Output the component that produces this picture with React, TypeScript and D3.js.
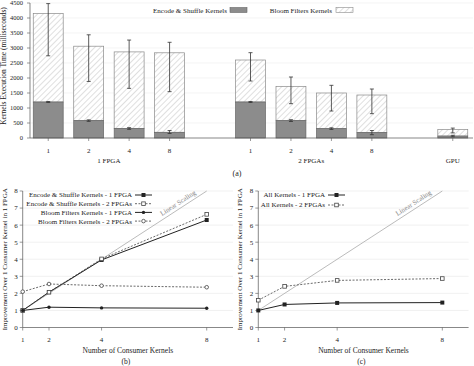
import React from "react";
import * as d3 from "d3";

// (a) stacked bars, execution time in ms
const barKeys = ["1F-1", "1F-2", "1F-4", "1F-8", "gap1", "2F-1", "2F-2", "2F-4", "2F-8", "gap2", "GPU"];
const barTicks = ["1", "2", "4", "8", "", "1", "2", "4", "8", "", ""];
const encodeMs = [1200, 578, 320, 190, 0, 1200, 578, 311, 178, 0, 65];
const encodeLo = [1185, 555, 290, 150, 0, 1185, 550, 285, 110, 0, 40];
const encodeHi = [1215, 605, 345, 250, 0, 1215, 610, 340, 250, 0, 90];
const totalMs = [4150, 3060, 2870, 2840, 0, 2600, 1722, 1500, 1433, 0, 285];
const totalLo = [2740, 1885, 1655, 1545, 0, 1900, 1144, 900, 811, 0, 170];
const totalHi = [4480, 3440, 3265, 3190, 0, 2844, 2033, 1756, 1633, 0, 330];
const groupLabels = [
  { text: "1 FPGA", from: "1F-2", to: "1F-4" },
  { text: "2 FPGAs", from: "2F-2", to: "2F-4" },
  { text: "GPU", from: "GPU", to: "GPU" },
];

// (b) and (c) speedups
const kernels = [1, 2, 4, 8];
const encode1 = [1, 2.07, 3.96, 6.3];
const encode2 = [1, 2.07, 4.02, 6.63];
const bloom1 = [1, 1.19, 1.15, 1.13];
const bloom2 = [2.1, 2.55, 2.45, 2.36];
const all1 = [1, 1.35, 1.44, 1.46];
const all2 = [1.6, 2.41, 2.76, 2.87];

const FONT = "Liberation Serif";
const DARK = "#222";

type Series = { name: string; values: number[]; dashed: boolean; marker: "fsq" | "osq" | "fci" | "oci" };

const seriesB: Series[] = [
  { name: "Encode & Shuffle Kernels - 1 FPGA", values: encode1, dashed: false, marker: "fsq" },
  { name: "Encode & Shuffle Kernels - 2 FPGAs", values: encode2, dashed: true, marker: "osq" },
  { name: "Bloom Filters Kernels - 1 FPGA", values: bloom1, dashed: false, marker: "fci" },
  { name: "Bloom Filters Kernels - 2 FPGAs", values: bloom2, dashed: true, marker: "oci" },
];
const seriesC: Series[] = [
  { name: "All Kernels - 1 FPGA", values: all1, dashed: false, marker: "fsq" },
  { name: "All Kernels - 2 FPGAs", values: all2, dashed: true, marker: "osq" },
];

const Marker = ({ kind, x, y }: { kind: string; x: number; y: number }) => {
  if (kind === "fsq") return <rect x={x - 2} y={y - 2} width={4} height={4} fill={DARK} />;
  if (kind === "osq") return <rect x={x - 1.8} y={y - 1.8} width={3.6} height={3.6} fill="#fff" stroke="#444" strokeWidth={0.8} />;
  if (kind === "fci") return <circle cx={x} cy={y} r={1.7} fill={DARK} />;
  return <circle cx={x} cy={y} r={1.8} fill="#fff" stroke="#444" strokeWidth={0.8} />;
};

const LinePanel = ({
  left, right, series, legendRight, legendTop, legendStep, label,
}: {
  left: number; right: number; series: Series[]; legendRight: number; legendTop: number; legendStep: number; label: string;
}) => {
  const x = d3.scaleLinear().domain([1, 9]).range([left, right]);
  const y = d3.scaleLinear().domain([0, 8]).range([327.5, 191]);
  const line = d3.line<number>().x((_, i) => x(kernels[i])).y((d) => y(d));
  const ang = (Math.atan2(y(8) - y(1), x(8) - x(1)) * 180) / Math.PI;
  const lx = x(6.95);
  const ly = y(6.95) - 4;
  return (
    <g fontFamily={FONT}>
      {y.ticks(8).map((t) => (
        <g key={t}>
          {t > 0 && <line x1={left} x2={right} y1={y(t)} y2={y(t)} stroke="#e8e8e8" strokeWidth={0.6} />}
          <line x1={left - 3} x2={left} y1={y(t)} y2={y(t)} stroke="#555" strokeWidth={0.6} />
          <text x={left - 5} y={y(t) + 2.4} fontSize={7} textAnchor="end" fill={DARK}>{t}</text>
        </g>
      ))}
      {kernels.map((k) => (
        <g key={k}>
          <line x1={x(k)} x2={x(k)} y1={y(0)} y2={y(0) + 3} stroke="#555" strokeWidth={0.6} />
          <text x={x(k)} y={y(0) + 14} fontSize={7} textAnchor="middle" fill={DARK}>{k}</text>
        </g>
      ))}
      <line x1={left} x2={left} y1={y(0)} y2={y(8)} stroke="#555" strokeWidth={0.7} />
      <line x1={left} x2={right} y1={y(0)} y2={y(0)} stroke="#555" strokeWidth={0.7} />
      <line x1={x(1)} y1={y(1)} x2={x(8)} y2={y(8)} stroke="#aaa" strokeWidth={0.8} />
      <text
        transform={`translate(${lx},${ly}) rotate(${ang})`}
        fontSize={7}
        textAnchor="middle"
        fill="#888"
      >
        Linear Scaling
      </text>
      {series.map((s) => (
        <g key={s.name}>
          <path d={line(s.values) || ""} fill="none" stroke={s.dashed ? "#444" : DARK} strokeWidth={s.dashed ? 0.8 : 1} strokeDasharray={s.dashed ? "2,1.5" : undefined} />
          {s.values.map((v, i) => (
            <Marker key={i} kind={s.marker} x={x(kernels[i])} y={y(v)} />
          ))}
        </g>
      ))}
      {series.map((s, i) => {
        const ty = legendTop + i * legendStep;
        return (
          <g key={s.name}>
            <text x={legendRight} y={ty + 2.4} fontSize={7} textAnchor="end" fill={DARK}>{s.name}</text>
            <line x1={legendRight + 3} x2={legendRight + 20} y1={ty} y2={ty} stroke={s.dashed ? "#444" : DARK} strokeWidth={s.dashed ? 0.8 : 1} strokeDasharray={s.dashed ? "2,1.5" : undefined} />
            <Marker kind={s.marker} x={legendRight + 11.5} y={ty} />
          </g>
        );
      })}
      <text
        transform={`translate(${left - 16},${(y(0) + y(8)) / 2}) rotate(-90)`}
        fontSize={7}
        textAnchor="middle"
        fill={DARK}
      >
        Improvement Over 1 Consumer Kernel in 1 FPGA
      </text>
      <text x={(x(1) + x(9)) / 2} y={352.5} fontSize={7.5} textAnchor="middle" fill={DARK}>Number of Consumer Kernels</text>
      <text x={(x(1) + x(9)) / 2 - 2} y={363.5} fontSize={7.5} textAnchor="middle" fill={DARK}>{label}</text>
    </g>
  );
};

const BarPanel = () => {
  const x = d3.scaleBand<string>().domain(barKeys).range([28, 473]).paddingInner(0.26).paddingOuter(0.13);
  const y = d3.scaleLinear().domain([0, 4500]).range([138, 3]);
  const bw = x.bandwidth();
  const cx = (k: string) => (x(k) || 0) + bw / 2;
  const ErrBar = ({ k, lo, hi }: { k: string; lo: number; hi: number }) => (
    <g stroke="#333" strokeWidth={0.8}>
      <line x1={cx(k)} x2={cx(k)} y1={y(lo)} y2={y(hi)} />
      <line x1={cx(k) - 2} x2={cx(k) + 2} y1={y(lo)} y2={y(lo)} />
      <line x1={cx(k) - 2} x2={cx(k) + 2} y1={y(hi)} y2={y(hi)} />
    </g>
  );
  return (
    <g fontFamily={FONT}>
      <defs>
        <pattern id="hatch" patternUnits="userSpaceOnUse" width={4} height={4} patternTransform="rotate(45)">
          <rect width={4} height={4} fill="#fff" />
          <line x1={0} y1={0} x2={0} y2={4} stroke="#b0b0b0" strokeWidth={0.8} />
        </pattern>
      </defs>
      {y.ticks(9).map((t) => (
        <g key={t}>
          {t > 0 && <line x1={30} x2={473} y1={y(t)} y2={y(t)} stroke="#ececec" strokeWidth={0.6} />}
          <line x1={27} x2={30} y1={y(t)} y2={y(t)} stroke="#555" strokeWidth={0.6} />
          <text x={23} y={y(t) + 2.3} fontSize={6.5} textAnchor="end" fill={DARK}>{t}</text>
        </g>
      ))}
      <line x1={30} x2={30} y1={y(0)} y2={y(4500)} stroke="#555" strokeWidth={0.7} />
      {barKeys.map((k, i) =>
        totalMs[i] > 0 ? (
          <g key={k}>
            <rect x={x(k)} y={y(totalMs[i])} width={bw} height={y(encodeMs[i]) - y(totalMs[i])} fill="url(#hatch)" stroke="#8a8a8a" strokeWidth={0.7} />
            <rect x={x(k)} y={y(encodeMs[i])} width={bw} height={y(0) - y(encodeMs[i])} fill="#8c8c8c" stroke="#666" strokeWidth={0.7} />
            <ErrBar k={k} lo={totalLo[i]} hi={totalHi[i]} />
            <ErrBar k={k} lo={encodeLo[i]} hi={encodeHi[i]} />
          </g>
        ) : null
      )}
      <line x1={30} x2={473} y1={y(0)} y2={y(0)} stroke="#555" strokeWidth={0.7} />
      {barKeys.map((k, i) =>
        barTicks[i] || k === "GPU" ? (
          <g key={k}>
            <line x1={cx(k)} x2={cx(k)} y1={y(0)} y2={y(0) + 3} stroke="#555" strokeWidth={0.6} />
            <text x={cx(k)} y={152.5} fontSize={7} textAnchor="middle" fill={DARK}>{barTicks[i]}</text>
          </g>
        ) : null
      )}
      {groupLabels.map((g) => (
        <text key={g.text} x={(cx(g.from) + cx(g.to)) / 2} y={162.5} fontSize={7} textAnchor="middle" fill={DARK}>{g.text}</text>
      ))}
      <text transform={`translate(6,66) rotate(-90)`} fontSize={7.5} textAnchor="middle" fill={DARK}>
        Kernels Execution Time (milliseconds)
      </text>
      <text x={227} y={13} fontSize={7} textAnchor="end" fill={DARK}>Encode &amp; Shuffle Kernels</text>
      <rect x={230} y={7.5} width={17} height={5} fill="#8c8c8c" stroke="#666" strokeWidth={0.6} />
      <text x={332} y={13} fontSize={7} textAnchor="end" fill={DARK}>Bloom Filters Kernels</text>
      <rect x={336} y={7.5} width={17} height={5} fill="url(#hatch)" stroke="#8a8a8a" strokeWidth={0.6} />
      <text x={237} y={176} fontSize={8} textAnchor="middle" fill={DARK}>(a)</text>
    </g>
  );
};

export default function App() {
  return (
    <svg width={474} height={366} style={{ position: "absolute", left: 0, top: 0, background: "#fff" }}>
      <rect width={474} height={366} fill="#fff" />
      <BarPanel />
      <LinePanel left={22.7} right={233} series={seriesB} legendRight={132} legendTop={195} legendStep={8.7} label="(b)" />
      <LinePanel left={258.3} right={468.6} series={seriesC} legendRight={325} legendTop={195} legendStep={10} label="(c)" />
    </svg>
  );
}
